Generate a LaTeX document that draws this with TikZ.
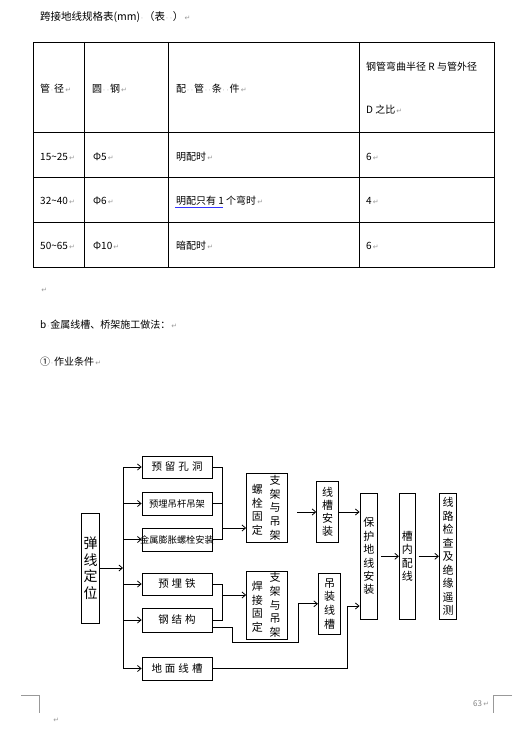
\documentclass[tikz,border=0pt]{standalone}
\usepackage{fontspec}
\setmainfont{Noto Sans CJK SC}
\newfontfamily\dejavu{DejaVu Sans}
\usetikzlibrary{arrows.meta,positioning}
\newcommand\pmk{{\dejavu\color{black!40}\fontsize{7}{7}\selectfont\,↵}}
\newcommand\spmk{{\dejavu\color{black!45}\fontsize{6}{6}\selectfont\,·\,}}
\newcommand\gp{\hspace{3pt}}
\tikzset{
  txt/.style   ={anchor=west,inner sep=0pt,font=\fontsize{10}{12}\selectfont},
  tbl/.style   ={draw=black,line width=0.9pt},
  box/.style   ={draw=black,line width=0.8pt,inner sep=0pt,align=center,
                 font=\fontsize{10.5}{12}\selectfont},
  vtxt/.style  ={inner sep=0pt,align=center,font=\fontsize{11}{13.6}\selectfont},
  arr/.style   ={line width=0.8pt,-{Straight Barb[length=3.5pt,width=6pt]}},
  link/.style  ={line width=0.8pt},
  crop/.style  ={draw=black!40,line width=0.8pt},
}

\begin{document}
\begin{tikzpicture}[x=1pt,y=-1pt]
\useasboundingbox (0,0) rectangle (523,730);

% title and table
\node[txt,font=\fontsize{10.5}{12}\selectfont] (title) at (40,17)
  {跨接地线规格表(mm)\spmk（表\spmk\spmk）\pmk};
\draw[tbl] (33,42) rectangle (494,267);
\foreach \x in {84,168,359} \draw[tbl] (\x,42) -- (\x,267);
\foreach \y in {132,177,222} \draw[tbl] (33,\y) -- (494,\y);

\node[txt] (h1) at (40,89)  {管\spmk 径\pmk};
\node[txt] (h2) at (92,89)  {圆\spmk\spmk 钢\pmk};
\node[txt] (h3) at (176,89) {配\spmk\spmk 管\spmk\spmk 条\spmk\spmk 件\pmk};
\node[txt] (h4) at (366,67) {钢管弯曲半径 R 与管外径};
\node[txt] (h4b) at (366,110) {D 之比\pmk};

\node[txt] (r1a) at (40,157)  {15\textasciitilde25\pmk};
\node[txt] (r1b) at (93,157)  {Φ5\pmk};
\node[txt] (r1c) at (176,157) {明配时\pmk};
\node[txt] (r1d) at (366,157) {6\pmk};

\node[txt] (r2a) at (40,201)  {32\textasciitilde40\pmk};
\node[txt] (r2b) at (93,201)  {Φ6\pmk};
\node[txt] (r2c) at (176,201) {明配只有 1 个弯时\pmk};
\node[txt] (r2d) at (366,201) {4\pmk};
\draw[blue!80!white,line width=0.8pt] (175,207) -- (223,207);

\node[txt] (r3a) at (40,246)  {50\textasciitilde65\pmk};
\node[txt] (r3b) at (93,246)  {Φ10\pmk};
\node[txt] (r3c) at (176,246) {暗配时\pmk};
\node[txt] (r3d) at (366,246) {6\pmk};

% paragraphs
\node[txt] (p0) at (40,290) {\pmk};
\node[txt] (p1) at (40,325) {b\spmk 金属线槽、桥架施工做法：\pmk};
\node[txt] (p2) at (40,362) {①\spmk 作业条件\pmk};

% flow chart
\node[box,minimum width=17.5,minimum height=110,
      font=\fontsize{14}{16.5}\selectfont] (tanxian) at (90.5,568) {弹\\线\\定\\位};

\node[box,minimum width=70,minimum height=22] (yuliu)    at (177,467)   {预\gp 留\gp 孔\gp 洞};
\node[box,minimum width=70,minimum height=23,
      font=\fontsize{9.3}{11}\selectfont]  (diaogan)  at (177,503.5) {预埋吊杆吊架};
\node[box,minimum width=70,minimum height=23,
      label={[font=\fontsize{9.2}{11}\selectfont,inner sep=0pt]center:金属膨胀螺栓安装}]
                                            (pengzhang) at (177,539.5) {};
\node[box,minimum width=70,minimum height=22] (yumaitie) at (177,584)   {预\gp 埋\gp 铁};
\node[box,minimum width=70,minimum height=24] (gangjg)   at (177,620)   {钢\gp 结\gp 构};
\node[box,minimum width=70,minimum height=23] (dimian)   at (177,668.5) {地\gp 面\gp 线\gp 槽};

\node[box,minimum width=41,minimum height=69] (luoshuan) at (267,507.7) {};
\node[vtxt] (luoshuanL) at ([xshift=-9.7pt,yshift=-2pt]luoshuan.center) {螺\\栓\\固\\定};
\node[vtxt] (luoshuanR) at ([xshift=8pt]luoshuan.center) {支\\架\\与\\吊\\架};
\node[box,minimum width=41,minimum height=68] (hanjie) at (267,605) {};
\node[vtxt] (hanjieL) at ([xshift=-9.7pt,yshift=-2pt]hanjie.center) {焊\\接\\固\\定};
\node[vtxt] (hanjieR) at ([xshift=8pt]hanjie.center) {支\\架\\与\\吊\\架};

\node[box,minimum width=21.6,minimum height=60.6,
      font=\fontsize{11}{13.2}\selectfont] (xcaz) at (327.5,512) {线\\槽\\安\\装};
\node[box,minimum width=22.4,minimum height=61,
      font=\fontsize{11}{13.6}\selectfont] (diaozhuang) at (329.5,603.8) {吊\\装\\线\\槽};

\node[box,minimum width=17.7,minimum height=126,
      font=\fontsize{11}{13.4}\selectfont] (baohu)  at (368.8,556.3) {保\\护\\地\\线\\安\\装};
\node[box,minimum width=16,minimum height=126,
      font=\fontsize{11}{13.4}\selectfont] (caonei) at (407.3,556.3) {槽\\内\\配\\线};
\node[box,minimum width=17.4,minimum height=126,
      font=\fontsize{11}{13.5}\selectfont] (xianlu) at (448,556.3)  {线\\路\\检\\查\\及\\绝\\缘\\遥\\测};

% trunk and branches
\coordinate (trunk) at (123,568);
\draw[arr] (tanxian.east) -- (trunk);
\draw[link] (yuliu.west -| trunk) -- (dimian.west -| trunk);
\foreach \b in {yuliu,diaogan,pengzhang,yumaitie,gangjg,dimian}
  \draw[arr] (\b.west -| trunk) -- (\b.west);

% merges
\coordinate (m1) at (222,528);
\draw[link] (yuliu.east) -- (yuliu.east -| m1) -- (pengzhang.east -| m1) -- (pengzhang.east);
\draw[link] (diaogan.east) -- (diaogan.east -| m1);
\draw[arr] (m1) -- (m1 -| luoshuan.west);

\coordinate (m2) at (222,595);
\draw[link] (yumaitie.east) -- (yumaitie.east -| m2) -- (gangjg.east -| m2) -- (gangjg.east);
\draw[arr] (m2) -- (m2 -| hanjie.west);

\coordinate (jd) at (298,642);
\draw[arr] ([yshift=-7pt]gangjg.east) -- ++(20,0) |- (jd) |- (diaozhuang.west);

\draw[arr,shorten <=9.5pt] (luoshuan.east |- xcaz.west) -- (xcaz.west);
\draw[arr] (xcaz.east) -- (xcaz.east -| baohu.west);

\coordinate (jb) at (347.3,606);
\draw[arr] (dimian.east) -| (jb) -- (jb -| baohu.west);

\draw[arr,shorten <=3pt] (baohu.east) -- (caonei.west);
\draw[arr,shorten <=3pt] (caonei.east) -- (xianlu.west);

% page marks
\draw[crop] (21,695) -- (39.5,695) -- (39.5,713);
\draw[crop] (512,695) -- (493.5,695) -- (493.5,713);
\node[txt,font=\fontsize{8}{9}\selectfont,text=black!50] (pageno) at (473,704) {63\pmk};
\node[txt] (p3) at (52,720) {\pmk};
\end{tikzpicture}
\end{document}
